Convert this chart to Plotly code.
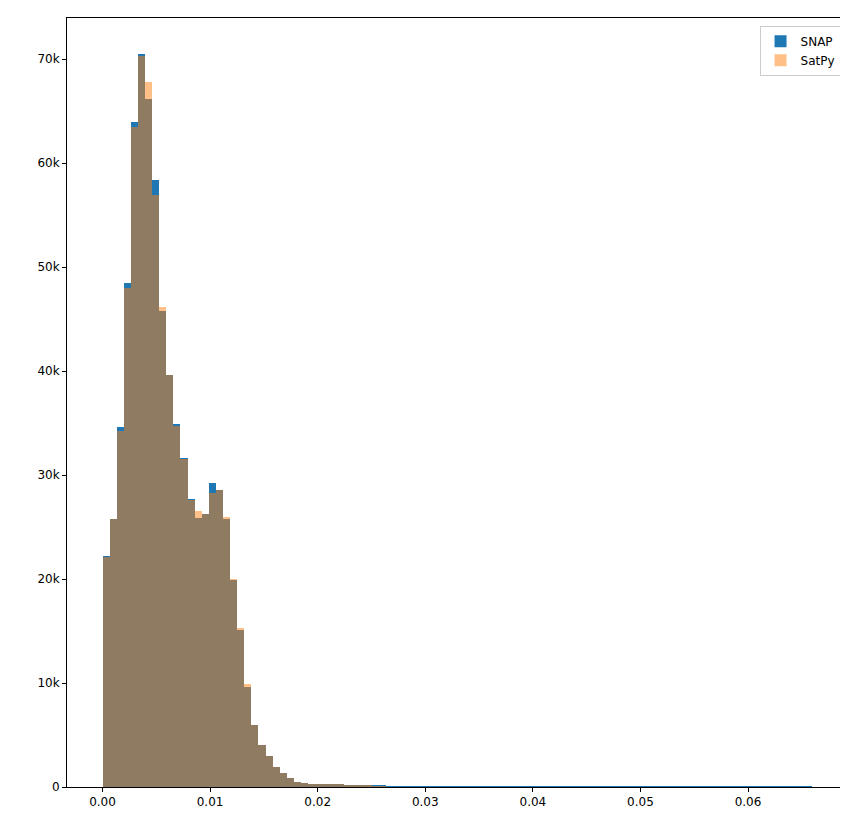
import numpy as np
import plotly.graph_objs as go

bin_width = 0.000659
n_bins = 100

snap_counts = [22210, 25770, 34610, 48460, 63940, 70480, 66150, 58360, 45770, 39650,
               34900, 31630, 27690, 25860, 26250, 29230, 28560, 25770, 19900, 15100,
               9620, 6000, 4040, 2980, 1920, 1350, 870, 480, 380, 290,
               290, 290, 290, 280, 190, 190, 190, 100, 100, 100]
satpy_counts = [22100, 25770, 34230, 47980, 63460, 70290, 67790, 56920, 46150, 39610,
                34710, 31540, 27600, 26540, 26250, 28270, 28560, 25960, 20000, 15290,
                9900, 5960, 4040, 2980, 1920, 1350, 870, 480, 380, 290,
                290, 290, 290, 280, 190, 190, 190, 150, 100, 100]
snap_counts += [20] * (n_bins - len(snap_counts))
satpy_counts += [20] * (n_bins - len(satpy_counts))

centers = (np.arange(n_bins) + 0.5) * bin_width

fig = go.Figure()
fig.add_trace(go.Bar(name='SNAP', x=centers, y=snap_counts, width=bin_width,
                     marker=dict(color='#1f77b4', line=dict(width=0))))
fig.add_trace(go.Bar(name='SatPy', x=centers, y=satpy_counts, width=bin_width,
                     marker=dict(color='rgba(255,127,14,0.5)', line=dict(width=0))))

axis_style = dict(showline=True, linecolor='black', linewidth=1, mirror=True,
                  ticks='outside', ticklen=4, tickcolor='black', showgrid=False,
                  zeroline=False, tickfont=dict(family='DejaVu Sans', size=12, color='black'))

fig.update_layout(
    barmode='overlay', bargap=0,
    width=848, height=813,
    margin=dict(l=59, r=9, t=10, b=34),
    plot_bgcolor='white', paper_bgcolor='white',
    xaxis=dict(range=[-0.0033, 0.0692], tickvals=[0, 0.01, 0.02, 0.03, 0.04, 0.05, 0.06],
               ticktext=['0.00', '0.01', '0.02', '0.03', '0.04', '0.05', '0.06'], **axis_style),
    yaxis=dict(range=[0, 73950], tickvals=list(range(0, 70001, 10000)), **axis_style),
    legend=dict(x=0.993, y=0.99, xanchor='right', yanchor='top', bgcolor='white',
                bordercolor='#cccccc', borderwidth=1,
                font=dict(family='DejaVu Sans', size=12, color='black')),
)

fig.write_html("out.html")
